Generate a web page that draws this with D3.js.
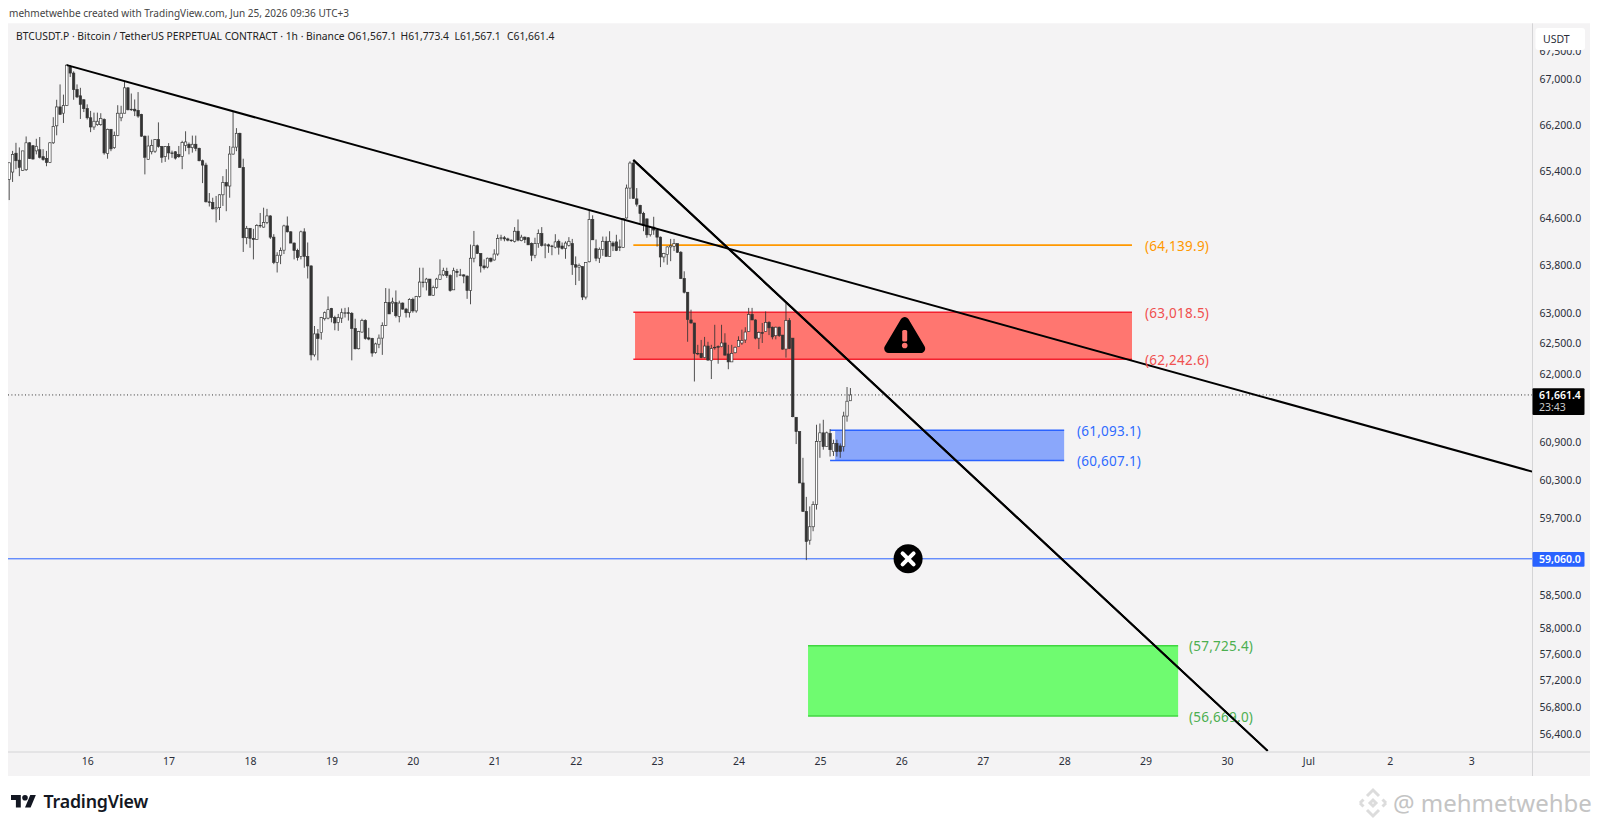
<!DOCTYPE html>
<html><head><meta charset="utf-8">
<script src="https://cdn.jsdelivr.net/npm/d3@7"></script>
<style>html,body{margin:0;background:#fff;overflow:hidden}svg{display:block}text{font-family:"Noto Sans",sans-serif}</style>
</head><body><svg id="c" width="1598" height="828"></svg>
<script>
const firstCandle = Date.UTC(2026,5,15,1);
const opens=[65260,65385,65710,65590,65415,65425,65890,65840,65750,65770,65650,65620,65550,65890,66185,66515,66405,66540,67220,67110,66820,66710,66640,66485,66325,66165,66205,66205,66295,65705,66125,65805,66015,66325,66405,66850,66475,66475,66455,66385,66005,65605,65735,65745,65945,65825,65650,65825,65715,65735,65685,65655,65845,65865,65805,65865,65795,65580,65505,64875,64865,
64755,64775,64995,65205,65145,65695,65815,66055,65465,64265,64425,64255,64235,64475,64445,64525,64635,64275,63850,63970,64055,64465,64365,64175,64050,63950,64365,63950,63790,62315,62660,62680,62910,62920,63080,62930,62850,62920,63000,63010,63000,62750,62415,62690,62880,62595,62585,62355,62490,62590,62800,63180,63170,63180,62950,63170,63070,63010,63230,63040,63280,63520,63510,63570,63300,63430,63560,63640,63700,63630,63390,63700,63640,63640,63620,63380,63920,64130,64000,63790,63770,63920,63890,63990,
64255,64265,64245,64225,64205,64375,64215,64275,64265,64165,63970,64165,64335,64135,64145,64125,64105,64205,64125,64085,64135,64165,63810,63770,63780,63270,63860,64575,64080,63920,64070,64205,63950,64175,64195,64110,64100,64600,65110,65540,64925,64815,64675,64585,64315,64445,64395,64275,63940,63980,64110,64120,64165,64020,63580,63350,
62890,62840,62340,62340,62270,62460,62220,62430,62450,62450,62510,62330,62200,62350,62450,62510,62560,62700,62980,62890,62590,62680,62700,62850,62770,62630,62770,62640,62410,62880,62590,61300,61070,60250,59800,59350,59560,59910,60910,61050,60830,61040,60750,60880,60840,60830,61320,61567.1];
const highs=[65545,65750,65890,65810,65750,66000,65900,65850,65960,65990,65780,65750,65900,66335,66640,66910,66730,67270,67250,67140,66910,66850,66650,66560,66445,66415,66415,66405,66315,66135,66125,66085,66545,66535,66970,66860,66750,66645,66775,66395,66015,66015,65945,65955,66245,65835,65835,65885,65755,65745,65835,65925,66090,65895,66015,66015,65805,65600,65545,65025,64945,
64975,65005,65315,65435,65835,66425,66145,66065,65615,64465,64425,64415,64495,64685,64775,64755,64645,64325,64020,64100,64485,64625,64375,64185,64080,64385,64425,64185,63800,62790,62740,62940,63030,63280,63090,62960,62990,63080,63090,63100,63020,62910,62710,62910,62900,62760,62595,62515,62650,62850,63420,63410,63260,63380,63210,63180,63090,63250,63260,63290,63760,63760,63590,63570,63460,63590,63900,63760,63760,63650,63760,63740,63740,63650,63630,64150,64380,64150,64000,63900,63930,63930,64070,64320,
64315,64295,64265,64235,64445,64575,64315,64285,64275,64185,64265,64405,64445,64175,64165,64145,64325,64235,64185,64205,64275,64245,63950,63830,63780,63850,64745,64645,64235,64100,64285,64285,64375,64205,64315,64235,64600,65170,65570,65570,65110,64825,64705,64585,64465,64620,64415,64285,64010,64120,64245,64245,64165,64040,63700,63350,
63060,62840,62480,62560,62610,62530,62480,62810,62470,62810,62670,62480,62480,62450,62620,62730,62770,63090,63090,62900,62700,62840,63030,62870,62780,62780,62780,62640,63170,62920,62590,61300,61070,60650,60030,59880,59960,61180,61200,61260,61070,61110,60940,60940,60880,61390,61790,61773.4];
const lows=[64905,65215,65435,65315,65405,65405,65610,65600,65690,65620,65580,65485,65540,65870,66020,66385,66235,66530,67040,66640,66670,66305,66425,66295,66075,66115,66185,66185,65685,65615,65745,65785,66005,66265,66405,66455,66445,66355,66325,65995,65345,65600,65690,65715,65805,65545,65560,65600,65630,65600,65630,65435,65745,65690,65720,65745,65570,65195,64865,64795,64745,
64525,64565,64805,64715,64945,65685,65745,65455,64025,64155,64095,63900,64235,64435,64435,64495,64245,63820,63680,63820,63990,64355,64175,63900,63880,63900,63760,63580,62225,62285,62225,62565,62880,62900,62850,62720,62710,62840,62930,62880,62225,62405,62405,62680,62565,62555,62285,62335,62425,62315,62790,62990,63020,62930,62850,63060,62930,62930,63010,63010,63260,63430,63380,63300,63290,63410,63560,63620,63590,63360,63390,63600,63620,63500,63240,63150,63850,63990,63680,63730,63750,63850,63880,63960,
64215,64205,64205,64195,64185,64205,64205,64175,64145,63870,63920,64095,64115,63920,64010,63970,64085,63980,64065,63910,64115,63640,63470,63540,63220,63230,63850,64230,63870,63840,63960,63950,63950,64040,64040,64040,64100,64590,64925,64925,64795,64515,64375,64265,64285,64315,64115,63770,63850,63810,63870,64040,64010,63570,63330,62530,
62830,61880,62310,62260,62260,62220,61920,62400,62170,62440,62310,62080,62200,62340,62450,62480,62510,62700,62890,62570,62410,62510,62700,62640,62570,62570,62610,62400,62270,62410,61300,60870,60250,59800,59040,59280,59490,59830,60650,60780,60830,60670,60680,60670,60650,60750,61230,61567.1];
const closes=[65545,65690,65580,65465,65750,65890,65620,65610,65830,65640,65600,65550,65890,66175,66515,66385,66540,67250,67110,66820,66690,66560,66485,66325,66165,66265,66265,66315,65715,66125,65785,66015,66405,66405,66850,66465,66465,66445,66355,66005,65640,65835,65845,65945,65825,65640,65825,65715,65705,65625,65650,65895,65905,65805,65865,65795,65580,65505,64875,64865,64755,
64775,64995,65205,65145,65695,65815,66055,65465,64265,64425,64255,64235,64475,64475,64525,64635,64275,63850,63970,64050,64465,64365,64175,64050,63930,64365,63950,63790,62315,62660,62585,62930,63010,63060,62930,62840,62930,63010,63010,63000,62750,62415,62700,62880,62585,62575,62345,62495,62590,62800,63180,62990,63190,62960,63170,63070,63010,63230,63040,63280,63520,63510,63570,63300,63430,63570,63640,63710,63630,63380,63710,63680,63640,63620,63380,63920,64130,64000,63790,63760,63920,63870,63990,64250,
64265,64245,64225,64215,64375,64225,64275,64235,64145,63970,64165,64335,64135,64145,64125,64115,64195,64105,64085,64175,64205,63810,63770,63800,63270,63850,64575,64230,63920,64070,64205,63950,64205,64125,64050,64100,64590,65110,65540,64935,64835,64675,64475,64315,64445,64395,64275,63940,64000,64110,64130,64165,64020,63580,63350,62900,
62840,62340,62330,62270,62460,62230,62420,62440,62440,62510,62310,62200,62340,62440,62550,62550,62690,62980,62890,62590,62680,62670,62850,62760,62610,62770,62630,62410,62880,62420,61310,61070,60250,59800,59330,59560,59910,60910,61050,60830,61050,60780,60880,60750,60750,61320,61560,61661.4];

const priceTicks=[67500,67000,66200,65400,64600,63800,63000,62500,62000,60900,60300,59700,58500,58000,57600,57200,56800,56400];
const dateTicks=[[2026,5,16,"16"],[2026,5,17,"17"],[2026,5,18,"18"],[2026,5,19,"19"],[2026,5,20,"20"],[2026,5,21,"21"],[2026,5,22,"22"],[2026,5,23,"23"],[2026,5,24,"24"],[2026,5,25,"25"],[2026,5,26,"26"],[2026,5,27,"27"],[2026,5,28,"28"],[2026,5,29,"29"],[2026,5,30,"30"],[2026,6,1,"Jul"],[2026,6,2,"2"],[2026,6,3,"3"]];
const trendA=[[Date.UTC(2026,5,15,18),67250],[Date.UTC(2026,6,3,18),60430]];
const trendB=[[Date.UTC(2026,5,22,17),65593],[Date.UTC(2026,5,30,12),56150]];
const levelOrange={price:64139.9,from:Date.UTC(2026,5,22,17),to:Date.UTC(2026,5,28,20)};
const zoneRed={top:63018.5,bottom:62242.6,lineFrom:Date.UTC(2026,5,22,17),fillFrom:Date.UTC(2026,5,22,17,30),to:Date.UTC(2026,5,28,20)};
const zoneBlue={top:61093.1,bottom:60607.1,lineFrom:Date.UTC(2026,5,25,3),fillFrom:Date.UTC(2026,5,25,4,30),to:Date.UTC(2026,5,28,0)};
const zoneGreen={top:57725.4,bottom:56669.0,lineFrom:Date.UTC(2026,5,24,20,30),fillFrom:Date.UTC(2026,5,24,20,30),to:Date.UTC(2026,5,29,9,36)};
const stopLevel=59060, lastPrice=61661.4;
const warnAt=[Date.UTC(2026,5,26,1),62633], crossAt=[Date.UTC(2026,5,26,2),59060];

const P={l:8,t:23.3,r:1532.5,b:752,R:1590,B:776};
const x=d3.scaleUtc().domain([Date.UTC(2026,5,16),Date.UTC(2026,6,3)]).range([87.2,1471.2]);
const y=d3.scaleLog().domain([67000,56400]).range([79.3,734]);
const fmt=d3.format(",.1f");
const svg=d3.select("#c");
svg.append("rect").attr("x",P.l).attr("y",P.t).attr("width",P.R-P.l).attr("height",P.B-P.t).attr("fill","#f4f3f4");
svg.append("defs").append("clipPath").attr("id","pane").append("rect").attr("x",P.l).attr("y",P.t).attr("width",P.r-P.l).attr("height",P.b-P.t);
const pane=svg.append("g").attr("clip-path","url(#pane)");

function zone(z,fill,line){
  pane.append("rect").attr("x",x(z.fillFrom)).attr("width",x(z.to)-x(z.fillFrom)).attr("y",y(z.top)).attr("height",y(z.bottom)-y(z.top)).attr("fill",fill);
  [z.top,z.bottom].forEach(p=>pane.append("line").attr("x1",x(z.lineFrom)).attr("x2",x(z.to)).attr("y1",y(p)).attr("y2",y(p)).attr("stroke",line).attr("stroke-width",1.5));
}
zone(zoneRed,"#ff7670","#f3212f");
zone(zoneBlue,"#8aa7fb","#2962ff");
zone(zoneGreen,"#6ffb70","#3fd63f");
pane.append("line").attr("x1",x(levelOrange.from)).attr("x2",x(levelOrange.to)).attr("y1",y(levelOrange.price)).attr("y2",y(levelOrange.price)).attr("stroke","#ff9800").attr("stroke-width",1.6);
pane.append("line").attr("x1",P.l).attr("x2",P.r).attr("y1",y(stopLevel)).attr("y2",y(stopLevel)).attr("stroke","#2962ff").attr("stroke-width",1);
pane.append("line").attr("x1",P.l).attr("x2",P.r).attr("y1",y(lastPrice)).attr("y2",y(lastPrice)).attr("stroke","#333").attr("stroke-dasharray","1 2.4");

const idx=d3.range(opens.length), t=i=>firstCandle+i*3600e3;
const cg=pane.append("g");
cg.selectAll("line").data(idx).join("line").attr("x1",i=>x(t(i))).attr("x2",i=>x(t(i))).attr("y1",i=>y(highs[i])).attr("y2",i=>y(lows[i])).attr("stroke","#333").attr("stroke-width",0.85);
cg.selectAll("rect").data(idx).join("rect").attr("x",i=>x(t(i))-1.2).attr("width",2.4)
 .attr("y",i=>y(Math.max(opens[i],closes[i]))).attr("height",i=>Math.max(0.6,Math.abs(y(opens[i])-y(closes[i]))))
 .attr("fill",i=>closes[i]>=opens[i]?"#fff":"#333").attr("stroke","#333").attr("stroke-width",0.65);

const ln=d3.line().x(d=>x(d[0])).y(d=>y(d[1]));
[trendA,trendB].forEach(s=>pane.append("path").attr("d",ln(s)).attr("fill","none").attr("stroke","#000").attr("stroke-width",2));

// markers
const w=svg.append("g").attr("transform",`translate(${x(warnAt[0])},${y(warnAt[1])})`);
w.append("path").attr("d","M0,-14 L16,13 L-16,13 Z").attr("fill","#000").attr("stroke","#000").attr("stroke-width",9).attr("stroke-linejoin","round");
w.append("rect").attr("x",-2.5).attr("y",-5.5).attr("width",5).attr("height",11.5).attr("rx",1.5).attr("fill","#ff7670");
w.append("circle").attr("cx",0).attr("cy",10).attr("r",2.8).attr("fill","#ff7670");
const c=svg.append("g").attr("transform",`translate(${x(crossAt[0])},${y(crossAt[1])})`);
c.append("circle").attr("r",14.5).attr("fill","#000");
c.append("path").attr("d","M-5.5,-5.5L5.5,5.5M5.5,-5.5L-5.5,5.5").attr("stroke","#fff").attr("stroke-width",4).attr("stroke-linecap","round");

// zone labels
function lab(px,p,s,col){svg.append("text").attr("x",px).attr("y",y(p)+1).attr("dy","0.35em").attr("fill",col).attr("font-size",13.5).attr("letter-spacing",0.25).text(s);}
const tag=p=>"("+fmt(p)+")";
lab(1145,levelOrange.price,tag(levelOrange.price),"#ff9800");
lab(1145,zoneRed.top,tag(zoneRed.top),"#f0504f");
lab(1145,zoneRed.bottom,tag(zoneRed.bottom),"#f0504f");
lab(1077,zoneBlue.top,tag(zoneBlue.top),"#2f6bff");
lab(1077,zoneBlue.bottom,tag(zoneBlue.bottom),"#2f6bff");
lab(1189,zoneGreen.top,tag(zoneGreen.top),"#4caf50");
lab(1189,zoneGreen.bottom,tag(zoneGreen.bottom),"#4caf50");
// trend line over green label
svg.append("path").attr("d",ln(trendB)).attr("fill","none").attr("stroke","#000").attr("stroke-width",2).attr("clip-path","url(#pane)");

// axes
const yAxis=d3.axisRight(y).tickValues(priceTicks).tickFormat(fmt).tickSize(0).tickPadding(7);
const ya=svg.append("g").attr("transform",`translate(${P.r},0)`).call(yAxis);
const xAxis=d3.axisBottom(x).tickValues(dateTicks.map(d=>Date.UTC(d[0],d[1],d[2]))).tickFormat((d,i)=>dateTicks[i][3]).tickSize(0).tickPadding(6);
const xa=svg.append("g").attr("transform",`translate(0,${P.b})`).call(xAxis);
[ya,xa].forEach(a=>{a.select(".domain").remove();a.selectAll("text").attr("font-size",10.5).attr("fill","#2a2e39").attr("font-family",'"Noto Sans"');});
svg.append("line").attr("x1",P.r).attr("x2",P.r).attr("y1",P.t).attr("y2",P.B).attr("stroke","#d4d4d6");
svg.append("line").attr("x1",P.l).attr("x2",P.R).attr("y1",P.b).attr("y2",P.b).attr("stroke","#d4d4d6");

// axis tags
svg.append("rect").attr("x",1535.5).attr("y",28).attr("width",49.5).attr("height",22).attr("rx",3).attr("fill","#fff");
svg.append("text").attr("x",1543).attr("y",39).attr("dy","0.35em").attr("font-size",10.5).attr("fill","#2a2e39").text("USDT");
svg.append("rect").attr("x",P.r).attr("y",388.3).attr("width",52).attr("height",26.7).attr("fill","#000").attr("rx",1);
svg.append("text").attr("x",1539).attr("y",395.5).attr("dy","0.35em").attr("font-size",10.5).attr("font-weight",600).attr("fill","#fff").text(fmt(lastPrice));
svg.append("text").attr("x",1539).attr("y",407.5).attr("dy","0.35em").attr("font-size",10.5).attr("fill","#ccc").text("23:43");
svg.append("rect").attr("x",P.r).attr("y",552).attr("width",52).attr("height",14.7).attr("fill","#2962ff").attr("rx",1);
svg.append("text").attr("x",1539).attr("y",559).attr("dy","0.35em").attr("font-size",10.5).attr("font-weight",600).attr("fill","#fff").text(fmt(stopLevel));

// header + legend
svg.append("text").attr("x",9).attr("y",13).attr("dy","0.35em").attr("font-size",10.05).attr("fill","#444").text("mehmetwehbe created with TradingView.com, Jun 25, 2026 09:36 UTC+3");
const hdr=[[16,"BTCUSDT.P · Bitcoin / TetherUS PERPETUAL CONTRACT · 1h · Binance"],[347.5,"O61,567.1"],[400.5,"H61,773.4"],[454.5,"L61,567.1"],[507,"C61,661.4"]];
hdr.forEach(h=>svg.append("text").attr("x",h[0]).attr("y",36).attr("dy","0.35em").attr("font-size",10.3).attr("fill","#222").text(h[1]));

// footer logo + watermark
const lg=svg.append("g").attr("transform","translate(11,792.2) scale(0.7)");
lg.append("path").attr("d","M14 22H7V11H0V4h14v18zM28 22h-8l7.5-18h8L28 22z").attr("fill","#131722");
lg.append("circle").attr("cx",20).attr("cy",8).attr("r",4).attr("fill","#131722");
svg.append("text").attr("x",43.5).attr("y",802).attr("dy","0.35em").attr("font-family","Inter").attr("font-weight",600).attr("font-size",17.8).attr("letter-spacing",-0.2).attr("fill","#131722").text("TradingView");
const b=svg.append("g").attr("transform","translate(1373,803)").attr("fill","none").attr("stroke","#dcdcdc").attr("stroke-width",3);
b.append("path").attr("d","M-6,-7L0,-13L6,-7M-6,7L0,13L6,7M-13,-0L-9.5,-3.5M-13,0L-9.5,3.5M13,0L9.5,-3.5M13,0L9.5,3.5M-3,0L0,-3L3,0L0,3Z");
svg.append("text").attr("x",1393).attr("y",804).attr("dy","0.35em").attr("font-size",24).attr("fill","#c4c4c4").text("@ mehmetwehbe");
</script></body></html>
